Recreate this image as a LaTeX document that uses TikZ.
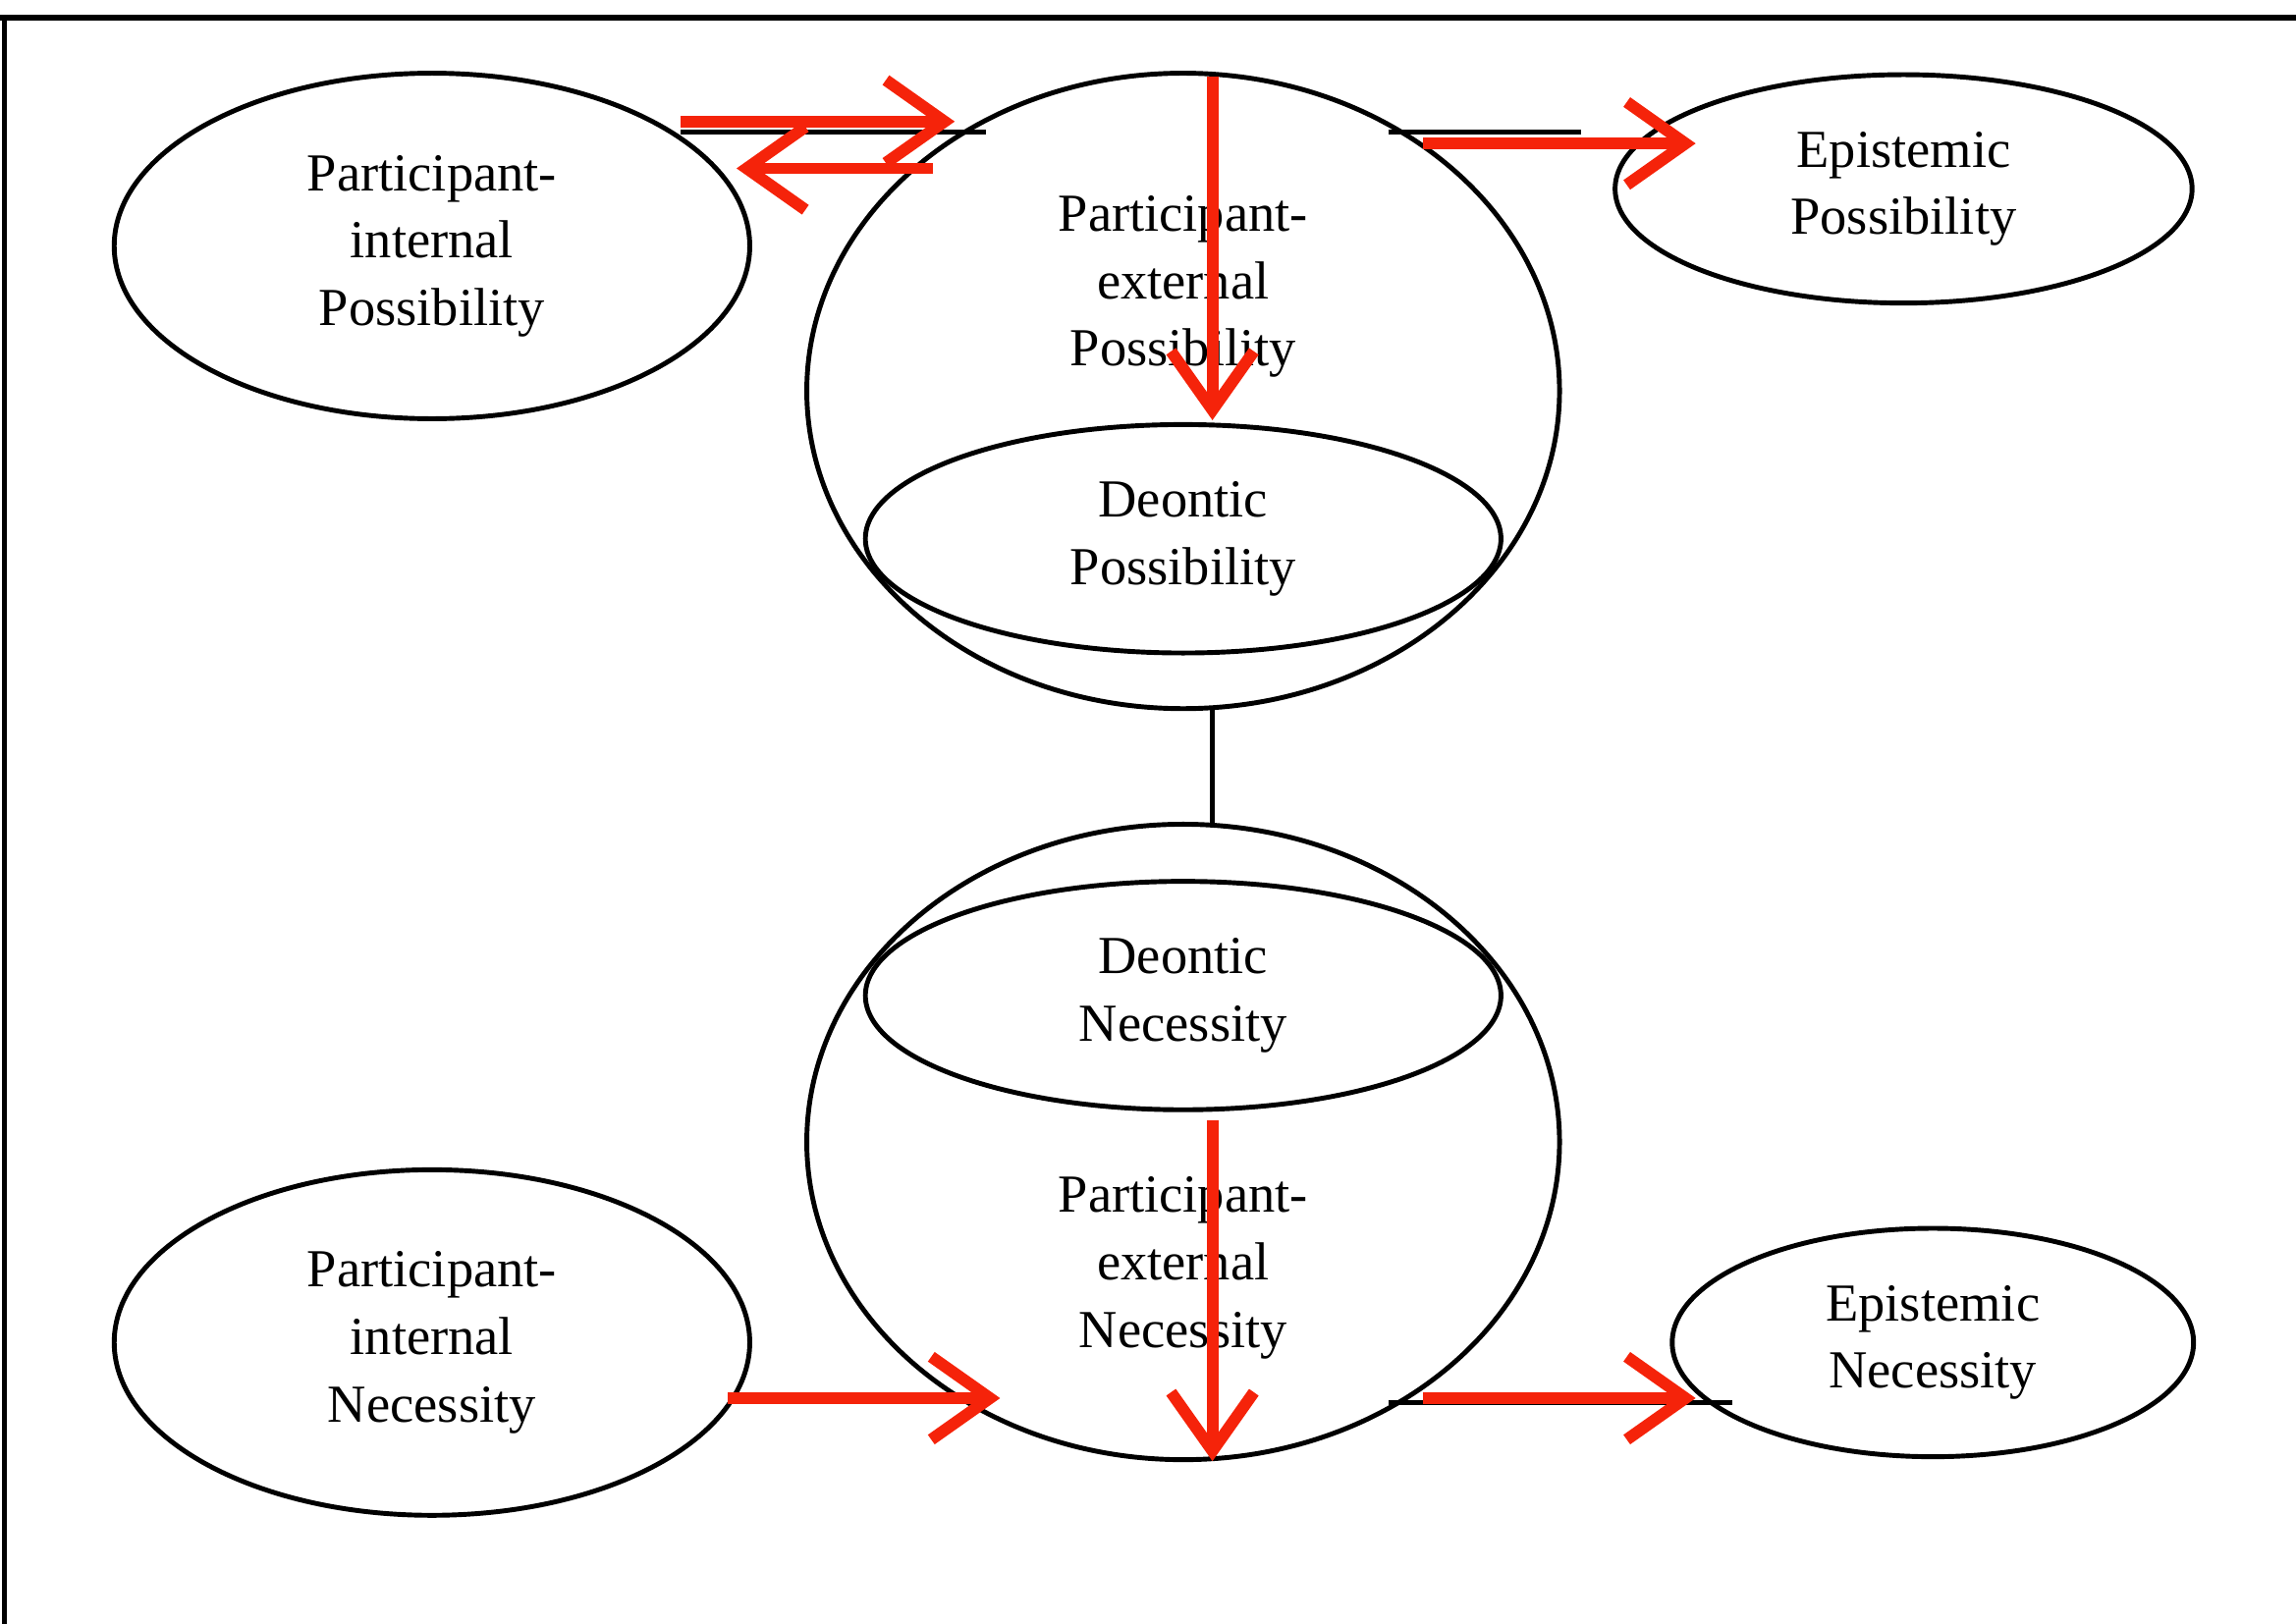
\documentclass[tikz,border=0pt]{standalone}
\usepackage{fontspec}
\setmainfont{Liberation Serif}
\usetikzlibrary{shapes.geometric,arrows.meta}
\def\uu{0.1491mm}
\begin{document}
\begin{tikzpicture}[x=0.01491cm,y=-0.01491cm,
  ell/.style={draw,ellipse,line width=1.4pt,inner sep=0pt,align=center,font=\fontsize{15.5}{19.5}\selectfont},
  lbl/.style={align=center,font=\fontsize{15.5}{19.5}\selectfont,inner sep=0pt},
  red/.style={draw={rgb,255:red,245;green,35;blue,10},line width=3.4pt,-{Straight Barb[length=17pt,width=24pt,line width=3.4pt]}},
  blk/.style={line width=1.4pt}]
\useasboundingbox (0,0) rectangle (1568,1109);
\draw[line width=1.6pt] (0,12) -- (1568,12) (3,12) -- (3,1109);
\node[ell,minimum width=434*\uu,minimum height=236*\uu] (pip) at (295,168) {Participant-\\internal\\Possibility};
\node[ell,minimum width=514*\uu,minimum height=434*\uu] (pep) at (808,267) {};
\node[lbl] (pept) at (808,196) {Participant-\\external\\Possibility};
\node[ell,minimum width=434*\uu,minimum height=156*\uu] (dp) at (808,368) {Deontic\\Possibility};
\node[ell,minimum width=394*\uu,minimum height=156*\uu] (ep) at (1300,129) {Epistemic\\Possibility};
\node[ell,minimum width=514*\uu,minimum height=434*\uu] (pen) at (808,780) {};
\node[lbl] (pent) at (808,866) {Participant-\\external\\Necessity};
\node[ell,minimum width=434*\uu,minimum height=156*\uu] (dn) at (808,680) {Deontic\\Necessity};
\node[ell,minimum width=434*\uu,minimum height=236*\uu] (pin) at (295,917) {Participant-\\internal\\Necessity};
\node[ell,minimum width=356*\uu,minimum height=156*\uu] (en) at (1320,917) {Epistemic\\Necessity};
\coordinate (a1) at (465,90); \coordinate (a2) at (673,90);
\coordinate (b1) at (948,90); \coordinate (b2) at (1080,90);
\coordinate (c1) at (948,958); \coordinate (c2) at (1183,958);
\coordinate (v1) at (828,484); \coordinate (v2) at (828,563);
\draw[blk] (a1) -- (a2) (b1) -- (b2) (c1) -- (c2) (v1) -- (v2);
\coordinate (r1s) at (465,83); \coordinate (r1e) at (652,83);
\coordinate (r2s) at (637,115); \coordinate (r2e) at (503,115);
\coordinate (r3s) at (828,52); \coordinate (r3e) at (828,287);
\coordinate (r4s) at (972,98); \coordinate (r4e) at (1158,98);
\coordinate (r5s) at (497,955); \coordinate (r5e) at (683,955);
\coordinate (r6s) at (828,765); \coordinate (r6e) at (828,998);
\coordinate (r7s) at (972,955); \coordinate (r7e) at (1158,955);
\foreach \i in {1,...,7} \draw[red] (r\i s) -- (r\i e);
\end{tikzpicture}
\end{document}
